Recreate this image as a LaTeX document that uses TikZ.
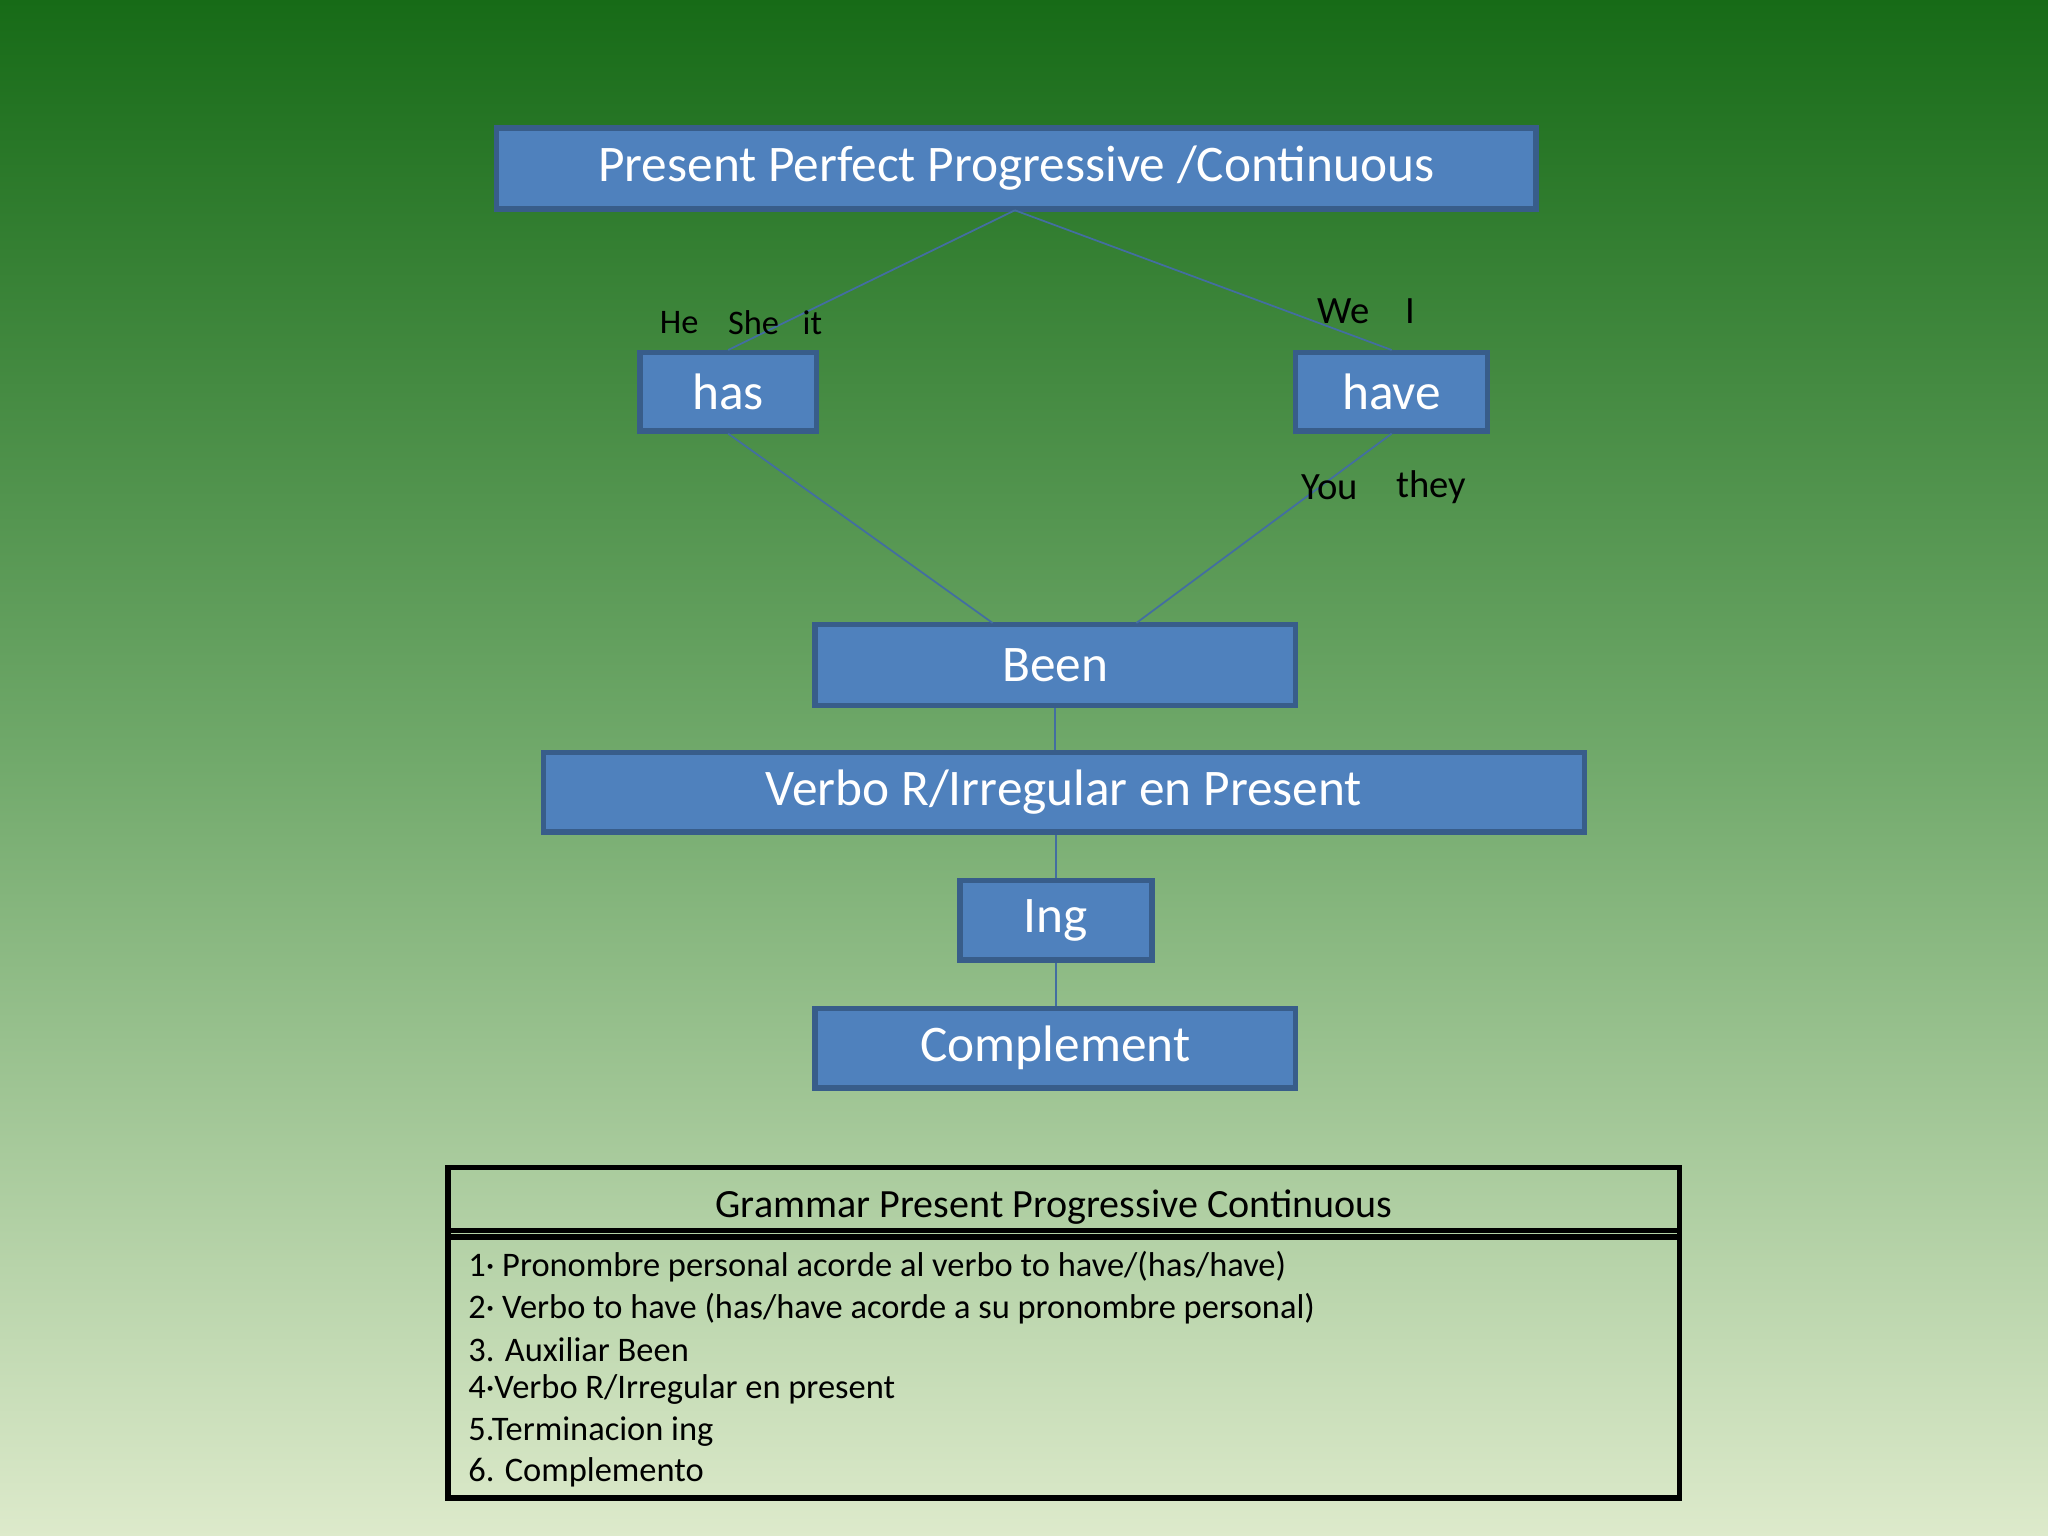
\documentclass[tikz,border=0pt]{standalone}
\usepackage{fontspec}
\setmainfont{Carlito}
\usetikzlibrary{calc}
\definecolor{boxfill}{HTML}{4F81BD}
\definecolor{boxdraw}{HTML}{385D8A}
\definecolor{gtop}{HTML}{176B17}
\definecolor{gmid}{HTML}{72AA6C}
\definecolor{gbot}{HTML}{DDEACB}
\newcommand{\dn}[1]{\raisebox{-1.8pt}{#1}}
\begin{document}
\begin{tikzpicture}[x=0.013061cm,y=-0.013061cm,
  box/.style={draw=boxdraw,line width=1.5pt,fill=boxfill,text=white,inner sep=0pt,font=\fontsize{14.6}{16}\selectfont},
  conn/.style={draw=boxfill!85!black,line width=0.5pt},
  pron/.style={font=\fontsize{9.8}{11}\selectfont,inner sep=0pt},
  pronb/.style={font=\fontsize{11}{12}\selectfont,inner sep=0pt},
  item/.style={font=\fontsize{9.8}{11}\selectfont,inner sep=0pt,anchor=west}]
\shade[top color=gtop,bottom color=gbot,middle color=gmid] (0,0) rectangle (1568,1176);
\useasboundingbox (0,0) rectangle (1568,1176);
\node[box,minimum width=796*0.013061cm,minimum height=62*0.013061cm] (title) at (778,129) {\dn{Present Perfect Progressive /Continuous}};
\node[box,minimum width=135*0.013061cm,minimum height=60*0.013061cm] (has) at (557.5,300) {\dn{has}};
\node[box,minimum width=147*0.013061cm,minimum height=60*0.013061cm] (have) at (1065.5,300) {\dn{have}};
\node[box,minimum width=368*0.013061cm,minimum height=62*0.013061cm] (been) at (808,509) {\dn{Been}};
\node[box,minimum width=797*0.013061cm,minimum height=61*0.013061cm] (verbo) at (814.5,606.5) {\dn{Verbo R/Irregular en Present}};
\node[box,minimum width=147*0.013061cm,minimum height=61*0.013061cm] (ing) at (808.5,704.5) {\dn{Ing}};
\node[box,minimum width=368*0.013061cm,minimum height=61*0.013061cm] (comp) at (808,802.5) {\dn{Complement}};
\coordinate (tb) at (777,161);
\coordinate (bl) at (760,477);
\coordinate (br) at (870,477);
\draw[conn] (tb) -- (has.north);
\draw[conn] (tb) -- (have.north);
\draw[conn] (has.south) -- (bl);
\draw[conn] (have.south) -- (br);
\draw[conn] (been.south) -- (verbo.north -| been.south);
\draw[conn] (verbo.south -| ing.north) -- (ing.north);
\draw[conn] (ing.south) -- (comp.north -| ing.south);
\node[pron] (he) at (520,247) {He};
\node[pron] (she) at (577,247) {She};
\node[pron] (it) at (622,247) {it};
\node[pronb] (we) at (1029,238) {We};
\node[pronb] (i) at (1080,238) {I};
\node[pronb] (you) at (1018,373) {You};
\node[pronb] (they) at (1096,373) {they};
\draw[line width=1.6pt] (343,894) rectangle (1286,1147);
\draw[line width=1.6pt] (343,942) -- (1286,942);
\draw[line width=1.6pt] (343,947) -- (1286,947);
\node[font=\fontsize{11.4}{13}\selectfont,inner sep=0pt] (hdr) at (807,924) {Grammar Present Progressive Continuous};
\node[item] (l1) at (358,970) {1· Pronombre personal acorde al verbo to have/(has/have)};
\node[item] (l2) at (358,1002) {2· Verbo to have (has/have acorde a su pronombre personal)};
\node[item] (l3) at (358,1033) {3. Auxiliar Been};
\node[item] (l4) at (358,1064) {4·Verbo R/Irregular en present};
\node[item] (l5) at (358,1096) {5.Terminacion ing};
\node[item] (l6) at (358,1127) {6. Complemento};
\end{tikzpicture}
\end{document}
